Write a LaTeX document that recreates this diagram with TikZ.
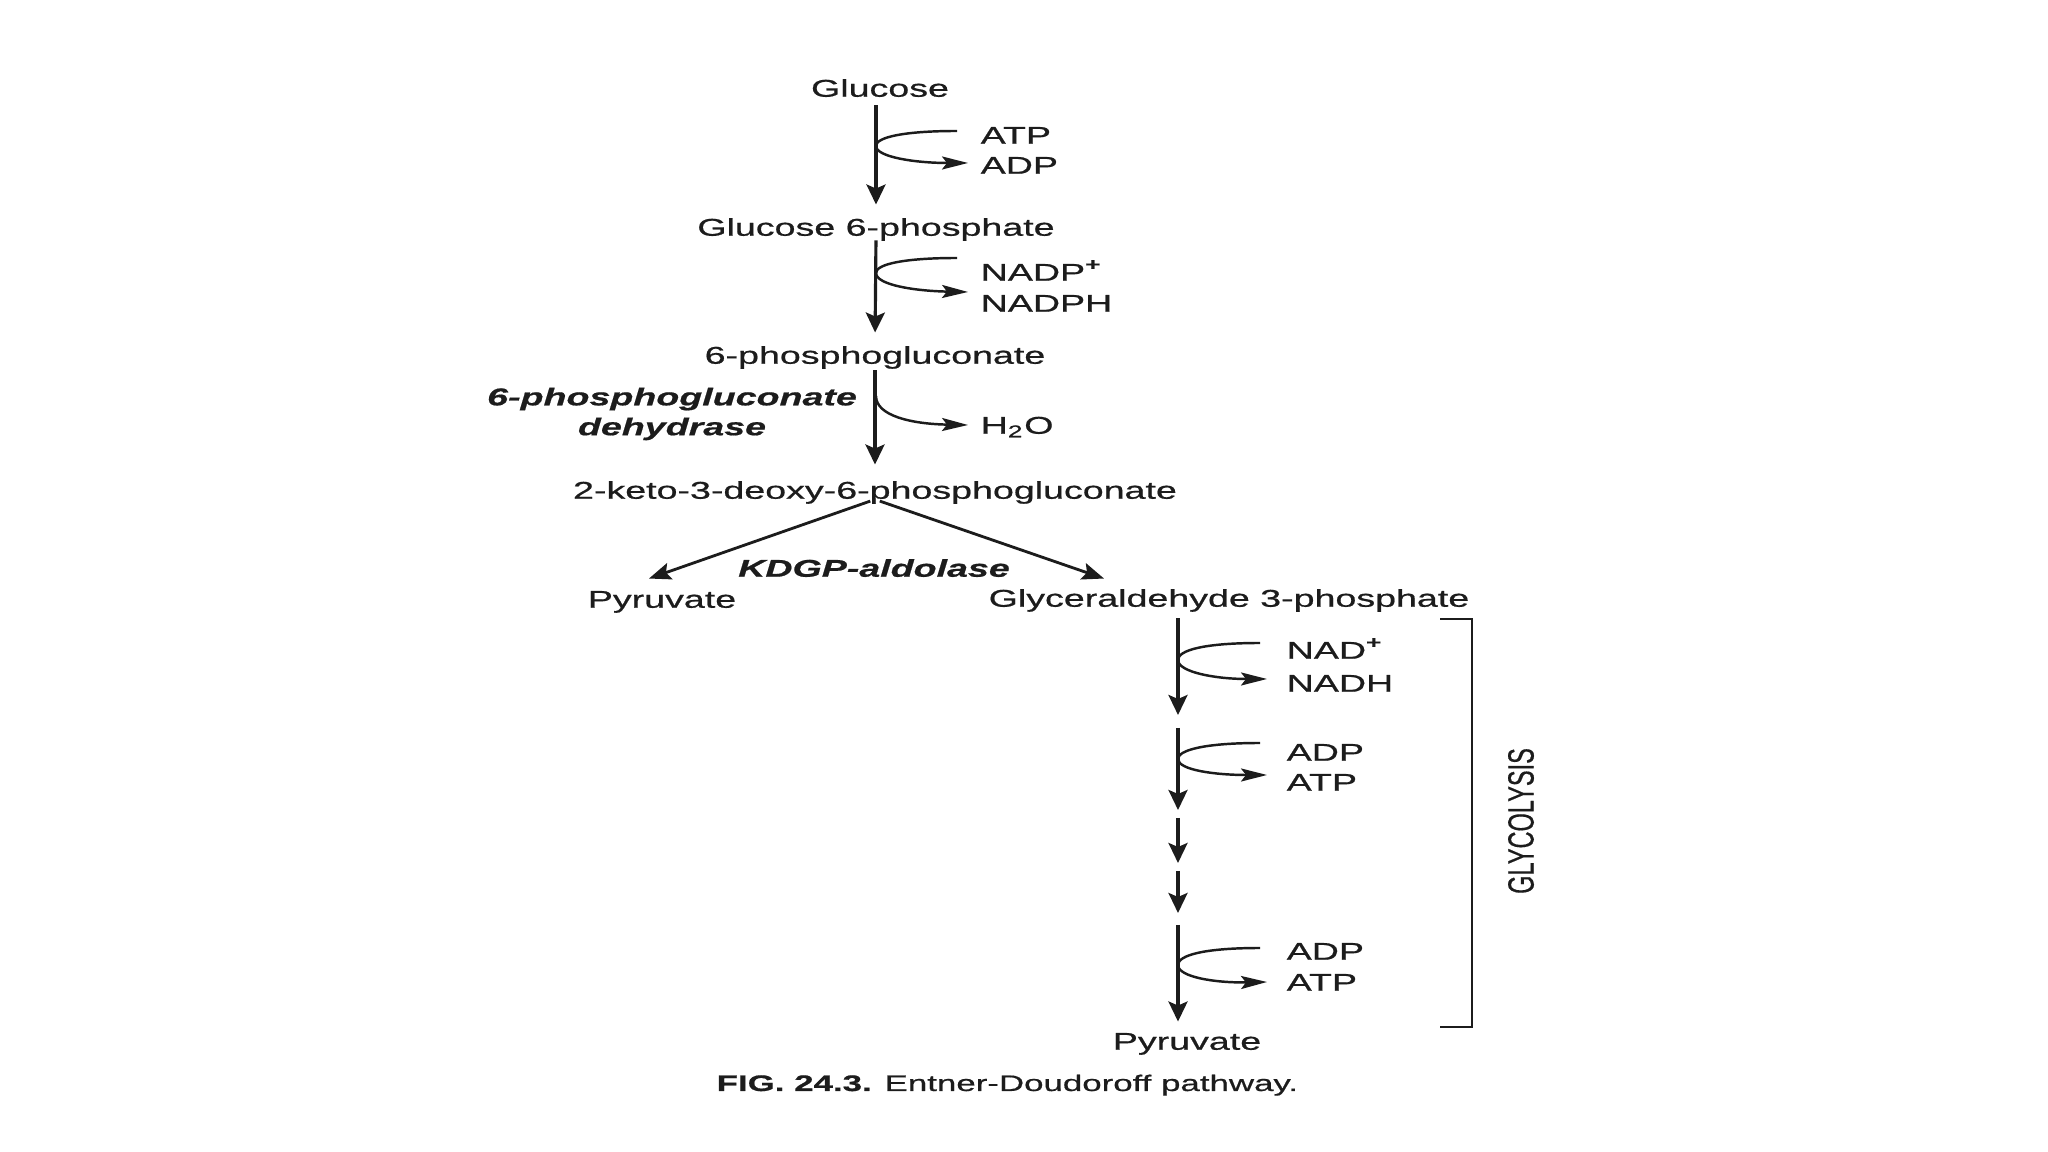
\documentclass[tikz,border=0pt]{standalone}
\usepackage{fontspec}
\setmainfont{Liberation Sans}[FakeStretch=1.55,FakeBold=0.7]
\newfontfamily\plainsans{Liberation Sans}[FakeBold=0.5]
\usetikzlibrary{arrows.meta,calc}
\definecolor{ink}{RGB}{28,28,28}
\tikzset{
  lbl/.style={inner sep=0pt, text height=1.75mm, text depth=0pt, text=ink, font=\fontsize{6.9pt}{8.5pt}\selectfont},
  cof/.style={lbl, anchor=west},
  enz/.style={inner sep=0pt, text=ink, font=\fontsize{6.9pt}{8.5pt}\selectfont\bfseries\itshape},
  mainarrow/.style={draw=ink, line width=0.9pt, -{Stealth[length=2.0mm,width=1.9mm,inset=0.4mm]}},
  sidearrow/.style={draw=ink, line width=0.7pt, -{Stealth[length=2.6mm,width=1.3mm,inset=0.5mm]}},
  brancharrow/.style={draw=ink, line width=0.8pt, -{Stealth[length=2.2mm,width=1.7mm,inset=0.4mm]}},
  plainline/.style={draw=ink, line width=0.75pt},
}
\begin{document}
\begin{tikzpicture}[x=0.1mm,y=-0.1mm]
\useasboundingbox[fill=white] (0,0) rectangle (2048,1152);

% main metabolites
\node[lbl] (glc)  at (880,88)  {Glucose};
\node[lbl] (g6p)  at (876,227) {Glucose 6-phosphate};
\node[lbl] (pg6)  at (875,355) {6-phosphogluconate};
\node[lbl] (kdpg) at (875,490) {2-keto-3-deoxy-6-phosphogluconate};
\node[lbl] (pyr1) at (662,599) {Pyruvate};
\node[lbl] (gap)  at (1229,598) {Glyceraldehyde 3-phosphate};
\node[lbl] (pyr2) at (1187,1041) {Pyruvate};

% cofactors
\node[cof] (atp1)  at (980,135) {ATP};
\node[cof] (adp1)  at (980,165) {ADP};
\node[cof] (nadp)  at (980,272) {NADP\textsuperscript{\textbf{+}}};
\node[cof] (nadph) at (980,303) {NADPH};
\node[cof] (h2o)   at (980,425) {H\textsubscript{2}O};
\node[cof] (nad)   at (1286,650) {NAD\textsuperscript{\textbf{+}}};
\node[cof] (nadh)  at (1286,683) {NADH};
\node[cof] (adp2)  at (1286,752) {ADP};
\node[cof] (atp2)  at (1286,782) {ATP};
\node[cof] (adp3)  at (1286,951) {ADP};
\node[cof] (atp3)  at (1286,982) {ATP};

% enzymes
\node[enz, align=center] (dehyd) at (672,414) {6-phosphogluconate\\dehydrase};
\node[enz, text height=1.75mm, text depth=0pt] (kdgpa) at (874,568) {KDGP-aldolase};

% main chain
\draw[mainarrow, shorten <=0.8mm, shorten >=1.3mm] (g6p.north |- glc.south) -- (g6p.north);
\draw[mainarrow, shorten <=0.4mm, shorten >=1.3mm] (g6p.south) -- (pg6.north);
\draw[mainarrow, shorten <=0.6mm, shorten >=1.6mm] (pg6.south) -- (kdpg.north);

% side reactions, upper column
\coordinate (s1) at (957,131);
\coordinate (m1) at (876,146);
\draw[sidearrow] (s1) .. controls (905,131) and (876,137) .. (m1)
  .. controls (876,157) and (915,163) .. ([shift={(-1.2mm,0.2mm)}]adp1.west);
\coordinate (s2) at (957,258);
\coordinate (m2) at (876,273);
\draw[sidearrow] (s2) .. controls (905,258) and (876,264) .. (m2)
  .. controls (876,285) and (915,291) .. ([shift={(-1.2mm,1.1mm)}]nadph.west);
\coordinate (m3) at (876,396);
\draw[sidearrow] (m3) .. controls (876,416) and (912,424) .. ([xshift=-1.2mm]h2o.west);

% split
\draw[brancharrow, shorten <=0.5mm] (kdpg.south) -- ([shift={(-1.3mm,1.1mm)}]pyr1.north);
\draw[brancharrow, shorten <=0.5mm] (kdpg.south) -- ([shift={(11.6mm,1.0mm)}]gap.north west);

% glycolysis chain
\coordinate (k1) at (1178,720);
\coordinate (k2) at (1178,815);
\coordinate (k3) at (1178,868);
\coordinate (k4) at (1178,918);
\draw[mainarrow, shorten <=1.1mm, shorten >=0.5mm] (k1 |- gap.south) -- (k1);
\draw[mainarrow, shorten <=0.8mm, shorten >=0.5mm] (k1) -- (k2);
\draw[mainarrow, shorten <=0.3mm, shorten >=0.5mm] (k2) -- (k3);
\draw[mainarrow, shorten <=0.3mm, shorten >=0.5mm] (k3) -- (k4);
\draw[mainarrow, shorten <=0.7mm, shorten >=1.0mm] (k4) -- (k4 |- pyr2.north);

% side reactions, glycolysis
\coordinate (s4) at (1260,643);
\coordinate (m4) at (1178,660);
\draw[sidearrow] (s4) .. controls (1205,643) and (1178,650) .. (m4)
  .. controls (1178,672) and (1215,679) .. ([shift={(-1.9mm,0.4mm)}]nadh.west);
\coordinate (s5) at (1260,743);
\coordinate (m5) at (1178,759);
\draw[sidearrow] (s5) .. controls (1205,743) and (1178,750) .. (m5)
  .. controls (1178,770) and (1215,775) .. ([shift={(-1.9mm,0.7mm)}]atp2.west);
\coordinate (s6) at (1260,948);
\coordinate (m6) at (1178,965);
\draw[sidearrow] (s6) .. controls (1205,948) and (1178,955) .. (m6)
  .. controls (1178,977) and (1215,983) .. ([xshift=-1.9mm]atp3.west);

% bracket
\coordinate (b1) at (1440,619);
\coordinate (b2) at (1472,619);
\coordinate (b3) at (1472,1027);
\coordinate (b4) at (1440,1027);
\draw[plainline] (b1) -- (b2) -- (b3) -- (b4);
\node[rotate=90, inner sep=0pt, text=ink] (gly) at (1521,821)
  {\plainsans\fontsize{6.7pt}{8pt}\selectfont\scalebox{1}[1.55]{GLYCOLYSIS}};

% caption
\node[anchor=west, inner sep=0pt, text height=1.6mm, text depth=0pt, text=ink,
  font=\fontsize{6.4pt}{8pt}\selectfont] (cap) at (716,1083)
  {\textbf{FIG. 24.3.} Entner-Doudoroff pathway.};
\end{tikzpicture}
\end{document}
